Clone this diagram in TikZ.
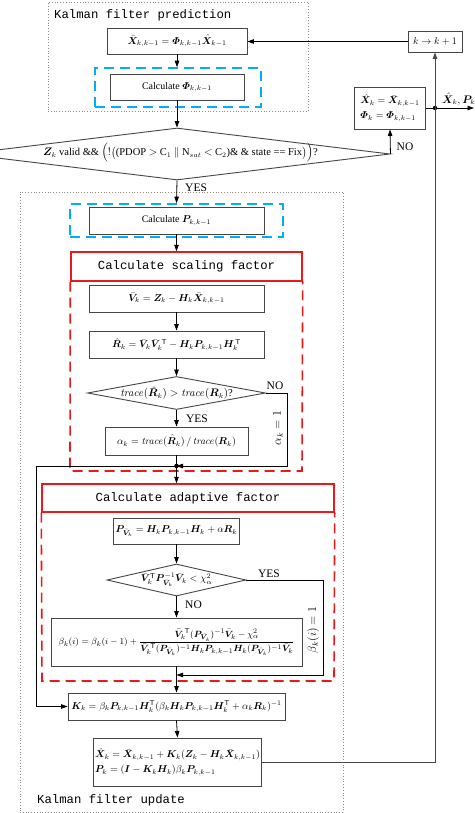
\documentclass[tikz,border=0pt]{standalone}
\usepackage{amsmath,amssymb,bm}
\usepackage[no-math]{fontspec}
\setmainfont{Liberation Serif}
\newfontfamily\monof{Liberation Mono}
\usetikzlibrary{arrows.meta,shapes.geometric}
\definecolor{cyanc}{RGB}{0,176,240}
\definecolor{redc}{RGB}{235,25,30}
\definecolor{boxc}{RGB}{70,70,70}
\newcommand{\tT}{\mathsf{T}}
\tikzset{
  box/.style={draw=boxc, line width=0.9pt, fill=white, inner sep=2pt, font=\fontsize{10}{12}\selectfont},
  dia/.style={diamond, draw=boxc, line width=0.9pt, fill=white, inner sep=0pt},
  arr/.style={-{Triangle[length=6.5pt,width=4.5pt]}, line width=0.8pt},
  cyanframe/.style={draw=cyanc, line width=1.6pt, dash pattern=on 10pt off 6pt},
  redtitle/.style={draw=redc, line width=1.4pt, font=\monof\fontsize{12.3}{14}\selectfont},
  reddash/.style={draw=redc, line width=1.6pt, dash pattern=on 10pt off 6pt},
  grp/.style={draw=black!45, dotted, line width=0.8pt},
  mono/.style={font=\monof\fontsize{12.3}{14}\selectfont, inner sep=0pt},
  lbl/.style={font=\fontsize{11.5}{13}\selectfont, inner sep=0pt},
}
\begin{document}
\begin{tikzpicture}[x=1pt,y=-1pt]
\useasboundingbox (0,0) rectangle (474,813);
\clip (0,0) rectangle (474,813);
\fill[white] (0,0) rectangle (474,813);
% prediction group
\node[grp, minimum width=260pt, minimum height=109pt] (pred) at (178,56.5) {};
\node[mono, anchor=west] (predt) at (54,15) {Kalman filter prediction};
\node[box, minimum width=140pt, minimum height=26pt] (b1) at (177,41)
  {$\bar{\bm X}_{k,k-1}=\bm{\varPhi}_{k,k-1}\hat{\bm X}_{k-1}$};
\node[cyanframe, minimum width=166pt, minimum height=39pt] (cy1) at (178,87.5) {};
\node[box, minimum width=134pt, minimum height=26pt] (cphi) at (177,87)
  {Calculate $\bm{\varPhi}_{k,k-1}$};
% decision
\node[dia, minimum width=426pt, minimum height=52pt] (d1) at (177,154) {};
\node[font=\fontsize{10.5}{12}\selectfont, inner sep=0pt, anchor=east] (d1t) at (318,153)
  {$\bm Z_k$ valid \&\& $\Big(!\big($(PDOP $>$ C$_1$ $\|$ N$_{sat}$ $<$ C$_2$)\& \& state == Fix$\big)\Big)$?};
\node[box, minimum width=71pt, minimum height=42pt, align=left] (nob) at (390,108)
  {$\hat{\bm X}_k=\bar{\bm X}_{k,k-1}$\\[3pt]$\bm{\varPhi}_k=\bm{\varPhi}_{k,k-1}$};
\node[box, minimum width=54pt, minimum height=21pt] (kk) at (435,41.5) {$k\rightarrow k+1$};
\coordinate (dot1) at (kk |- nob);
\coordinate (outr) at (474,108);
\node[font=\fontsize{10.5}{12}\selectfont, anchor=west, inner sep=0pt] (outl) at (442,99) {$\hat{\bm X}_k,\bm P_k$};
% update group
\node[grp, minimum width=323pt, minimum height=620pt] (upd) at (181.5,502) {};
\node[mono, anchor=west] (updt) at (37,800) {Kalman filter update};
\node[cyanframe, minimum width=213pt, minimum height=33pt] (cy2) at (176.5,220.5) {};
\node[box, minimum width=175pt, minimum height=27pt] (cp) at (176.5,220.5) {Calculate $\bm P_{k,k-1}$};
% scaling factor
\node[redtitle, minimum width=231pt, minimum height=29pt] (rs) at (186.5,266.5) {Calculate scaling factor};
\coordinate (rsbl) at (70,471);
\coordinate (rsbr) at (302,471);
\draw[reddash] (rs.south west) -- (rsbl) -- (rsbr) -- (rs.south east);
\node[box, minimum width=175pt, minimum height=27pt] (v) at (176.5,298.5)
  {$\bar{\bm V}_k=\bm Z_k-\bm H_k\bar{\bm X}_{k,k-1}$};
\node[box, minimum width=175pt, minimum height=27pt] (r) at (176.5,344.5)
  {$\hat{\bm R}_k=\bar{\bm V}_k\bar{\bm V}_k^{\,\tT}-\bm H_k\bm P_{k,k-1}\bm H_k^{\,\tT}$};
\node[dia, minimum width=178pt, minimum height=33pt] (d2) at (176.5,393) {};
\node[font=\fontsize{10.5}{12}\selectfont, inner sep=0pt] (d2t) at (176.5,393)
  {$\mathit{trace}(\hat{\bm R}_k)>\mathit{trace}(\bm R_k)$?};
\node[box, minimum width=143pt, minimum height=28pt] (al) at (176.5,441)
  {$\alpha_k=\mathit{trace}(\hat{\bm R}_k)\,/\,\mathit{trace}(\bm R_k)$};
\coordinate (j1) at (176.5,466);
\coordinate (n1) at (287,466);
\coordinate (n2) at (36,466);
% adaptive factor
\node[redtitle, minimum width=292pt, minimum height=28pt] (ra) at (188,498) {Calculate adaptive factor};
\coordinate (rabl) at (42,681);
\coordinate (rabr) at (334,681);
\draw[reddash] (ra.south west) -- (rabl) -- (rabr) -- (ra.south east);
\node[box, minimum width=122pt, minimum height=26pt] (pv) at (176.5,531)
  {$\bm P_{\bar{\bm V}_k}=\bm H_k\bm P_{k,k-1}\bm H_k+\alpha\bm R_k$};
\node[dia, minimum width=139pt, minimum height=32pt] (d3) at (176.5,580) {};
\node[font=\fontsize{10}{12}\selectfont, inner sep=0pt] (d3t) at (176.5,580)
  {$\bar{\bm V}_k^{\tT}\bm P_{\bar{\bm V}_k}^{-1}\bar{\bm V}_k<\chi_\alpha^2$};
\node[box, minimum width=251pt, minimum height=48pt, font=\fontsize{9.5}{11}\selectfont] (bb) at (176.5,642)
  {$\beta_k(i)=\beta_k(i-1)+\dfrac{\bar{\bm V}_k^{\,\tT}(\bm P_{\bar{\bm V}_k})^{-1}\bar{\bm V}_k-\chi_\alpha^2}{\bar{\bm V}_k^{\,\tT}(\bm P_{\bar{\bm V}_k})^{-1}\bm H_k\bm P_{k,k-1}\bm H_k(\bm P_{\bar{\bm V}_k})^{-1}\bar{\bm V}_k}$};
\coordinate (j2) at (176.5,675);
\coordinate (n3) at (323,675);
\node[box, minimum width=217pt, minimum height=27pt] (kb) at (176.5,706.5)
  {$\bm K_k=\beta_k\bm P_{k,k-1}\bm H_k^{\tT}(\beta_k\bm H_k\bm P_{k,k-1}\bm H_k^{\tT}+\alpha_k\bm R_k)^{-1}$};
\node[box, minimum width=167pt, minimum height=48pt, align=left] (fb) at (177.5,762)
  {$\hat{\bm X}_k=\bar{\bm X}_{k,k-1}+\bm K_k(\bm Z_k-\bm H_k\bar{\bm X}_{k,k-1})$\\[3pt]$\bm P_k=(\bm I-\bm K_k\bm H_k)\beta_k\bm P_{k,k-1}$};
% connectors
\draw[arr] (kk.west) -- (kk.west -| b1.east);
\draw[arr] (b1.south) -- (b1.south |- cy1.north);
\draw[arr] (cphi.south) -- (d1.north);
\draw[arr] (d1.east) -- (nob.south);
\node[lbl] (nol1) at (405,147) {NO};
\draw[arr] (nob.east) -- (outr);
\fill (dot1) circle (2.2pt);
\draw[arr] (d1.south) -- (cy2.north);
\node[lbl, anchor=west] (yes1) at (185,188) {YES};
\draw[arr] (cp.south) -- (cp.south |- rs.north);
\draw[arr] (v.south) -- (r.north);
\draw[arr] (r.south) -- (d2.north);
\draw[arr] (d2.south) -- (al.north);
\node[lbl] (yes2) at (197,419) {YES};
\node[lbl] (nol2) at (275,386) {NO};
\draw (al.south) -- (j1);
\draw[arr] (d2.east) -| (n1) -- (j1);
\node[lbl, rotate=90] (a1) at (278,428) {$\alpha_k=1$};
\fill (j1) circle (2.3pt);
\draw[arr] (j1) -- (j1 |- ra.north);
\draw[arr] (j1) -- (n2) |- (kb.west);
\draw[arr] (pv.south) -- (d3.north);
\draw[arr] (d3.south) -- (bb.north);
\node[lbl] (nol3) at (193.5,605) {NO};
\draw[arr] (d3.east) -| (n3) -- (j2);
\node[lbl] (yes3) at (269,574) {YES};
\node[lbl, rotate=90] (b1l) at (313,630) {$\beta_k(i)=1$};
\draw[arr] (bb.south) -- (kb.north);
\draw[arr] (kb.south) -- (fb.north);
\draw[arr, draw=boxc, line width=1pt] (fb.east) -| (kk.south);
\end{tikzpicture}
\end{document}
